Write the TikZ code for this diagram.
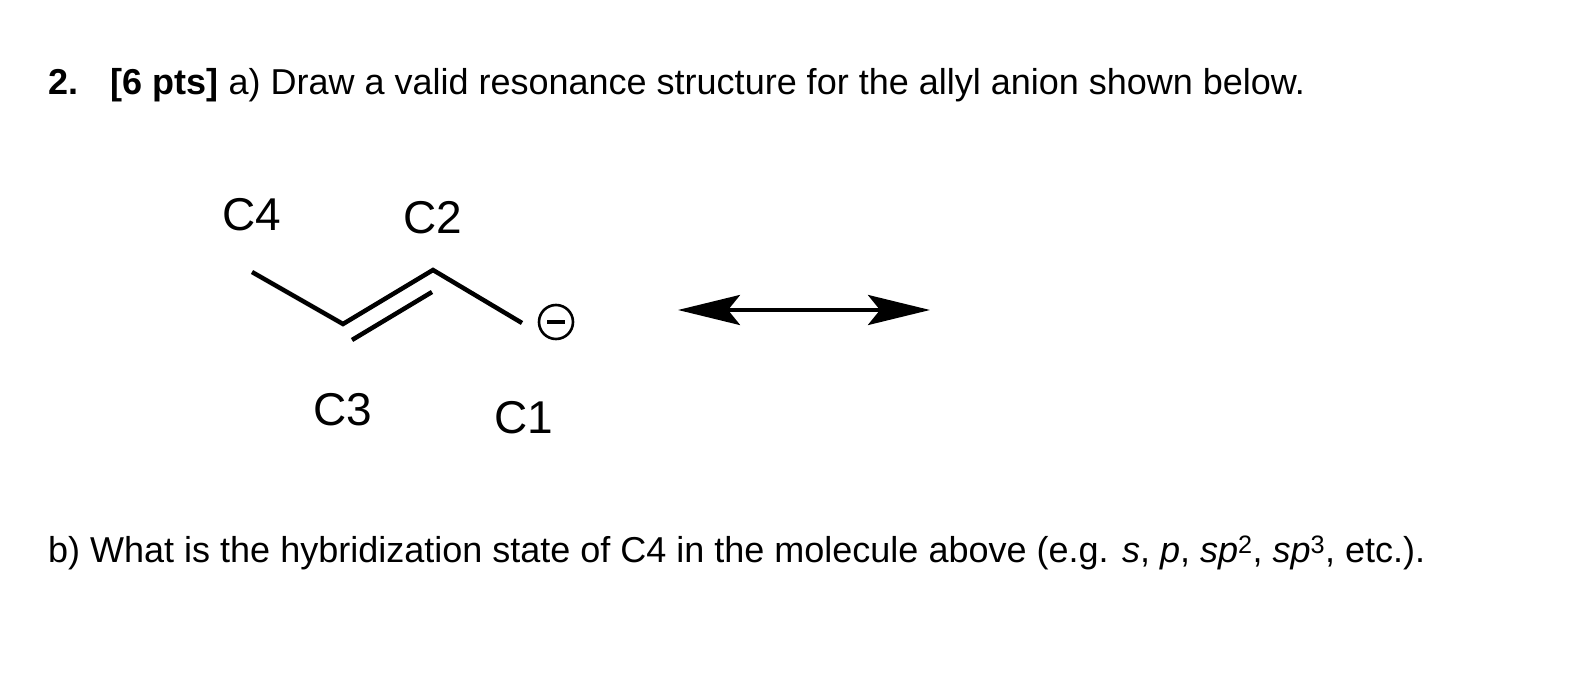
\documentclass[tikz,border=0pt]{standalone}
\usepackage{fontspec}
\setmainfont{Liberation Sans}
\usetikzlibrary{arrows.meta}
\begin{document}
\begin{tikzpicture}[x=1pt,y=-1pt,
  lab/.style={font=\fontsize{46}{50}\selectfont,inner sep=0},
  txt/.style={font=\fontsize{36}{40}\selectfont,anchor=west,inner sep=0},
  bond/.style={line width=4.5pt}]
\useasboundingbox (0,0) rectangle (1596,690);
\node[txt] (t1) at (48,85) {\textbf{2.}\hspace{0.9em}\textbf{[6 pts]} a) Draw a valid resonance structure for the allyl anion shown below.};
\node[txt] (t2) at (48,553) {b) What is the hybridization state of C4 in the molecule above (e.g. \textit{s}, \textit{p}, \textit{sp}\textsuperscript{2}, \textit{sp}\textsuperscript{3}, etc.).};
\node[lab] (l4) at (252,215) {C4};
\node[lab] (l2) at (433,218) {C2};
\node[lab] (l3) at (343,410) {C3};
\node[lab] (l1) at (524,418) {C1};
\coordinate (a4) at (252,272);
\coordinate (a3) at (343,324);
\coordinate (a2) at (433,270);
\coordinate (a1) at (522,323);
\draw[bond] (a4) -- (a3) -- (a2) -- (a1);
\coordinate (d1) at (352,340);
\coordinate (d2) at (432,292);
\draw[bond] (d1) -- (d2);
\node[draw,circle,line width=2.6pt,minimum size=34pt,inner sep=0] (neg) at (556,322) {};
\draw[line width=4pt] ([xshift=-9pt]neg.center) -- ([xshift=9pt]neg.center);
\coordinate (r1) at (678,310);
\coordinate (r2) at (930,310);
\draw[line width=4pt,{Stealth[length=62pt,width=30pt,inset=12pt]}-{Stealth[length=62pt,width=30pt,inset=12pt]}] (r1) -- (r2);
\end{tikzpicture}
\end{document}
